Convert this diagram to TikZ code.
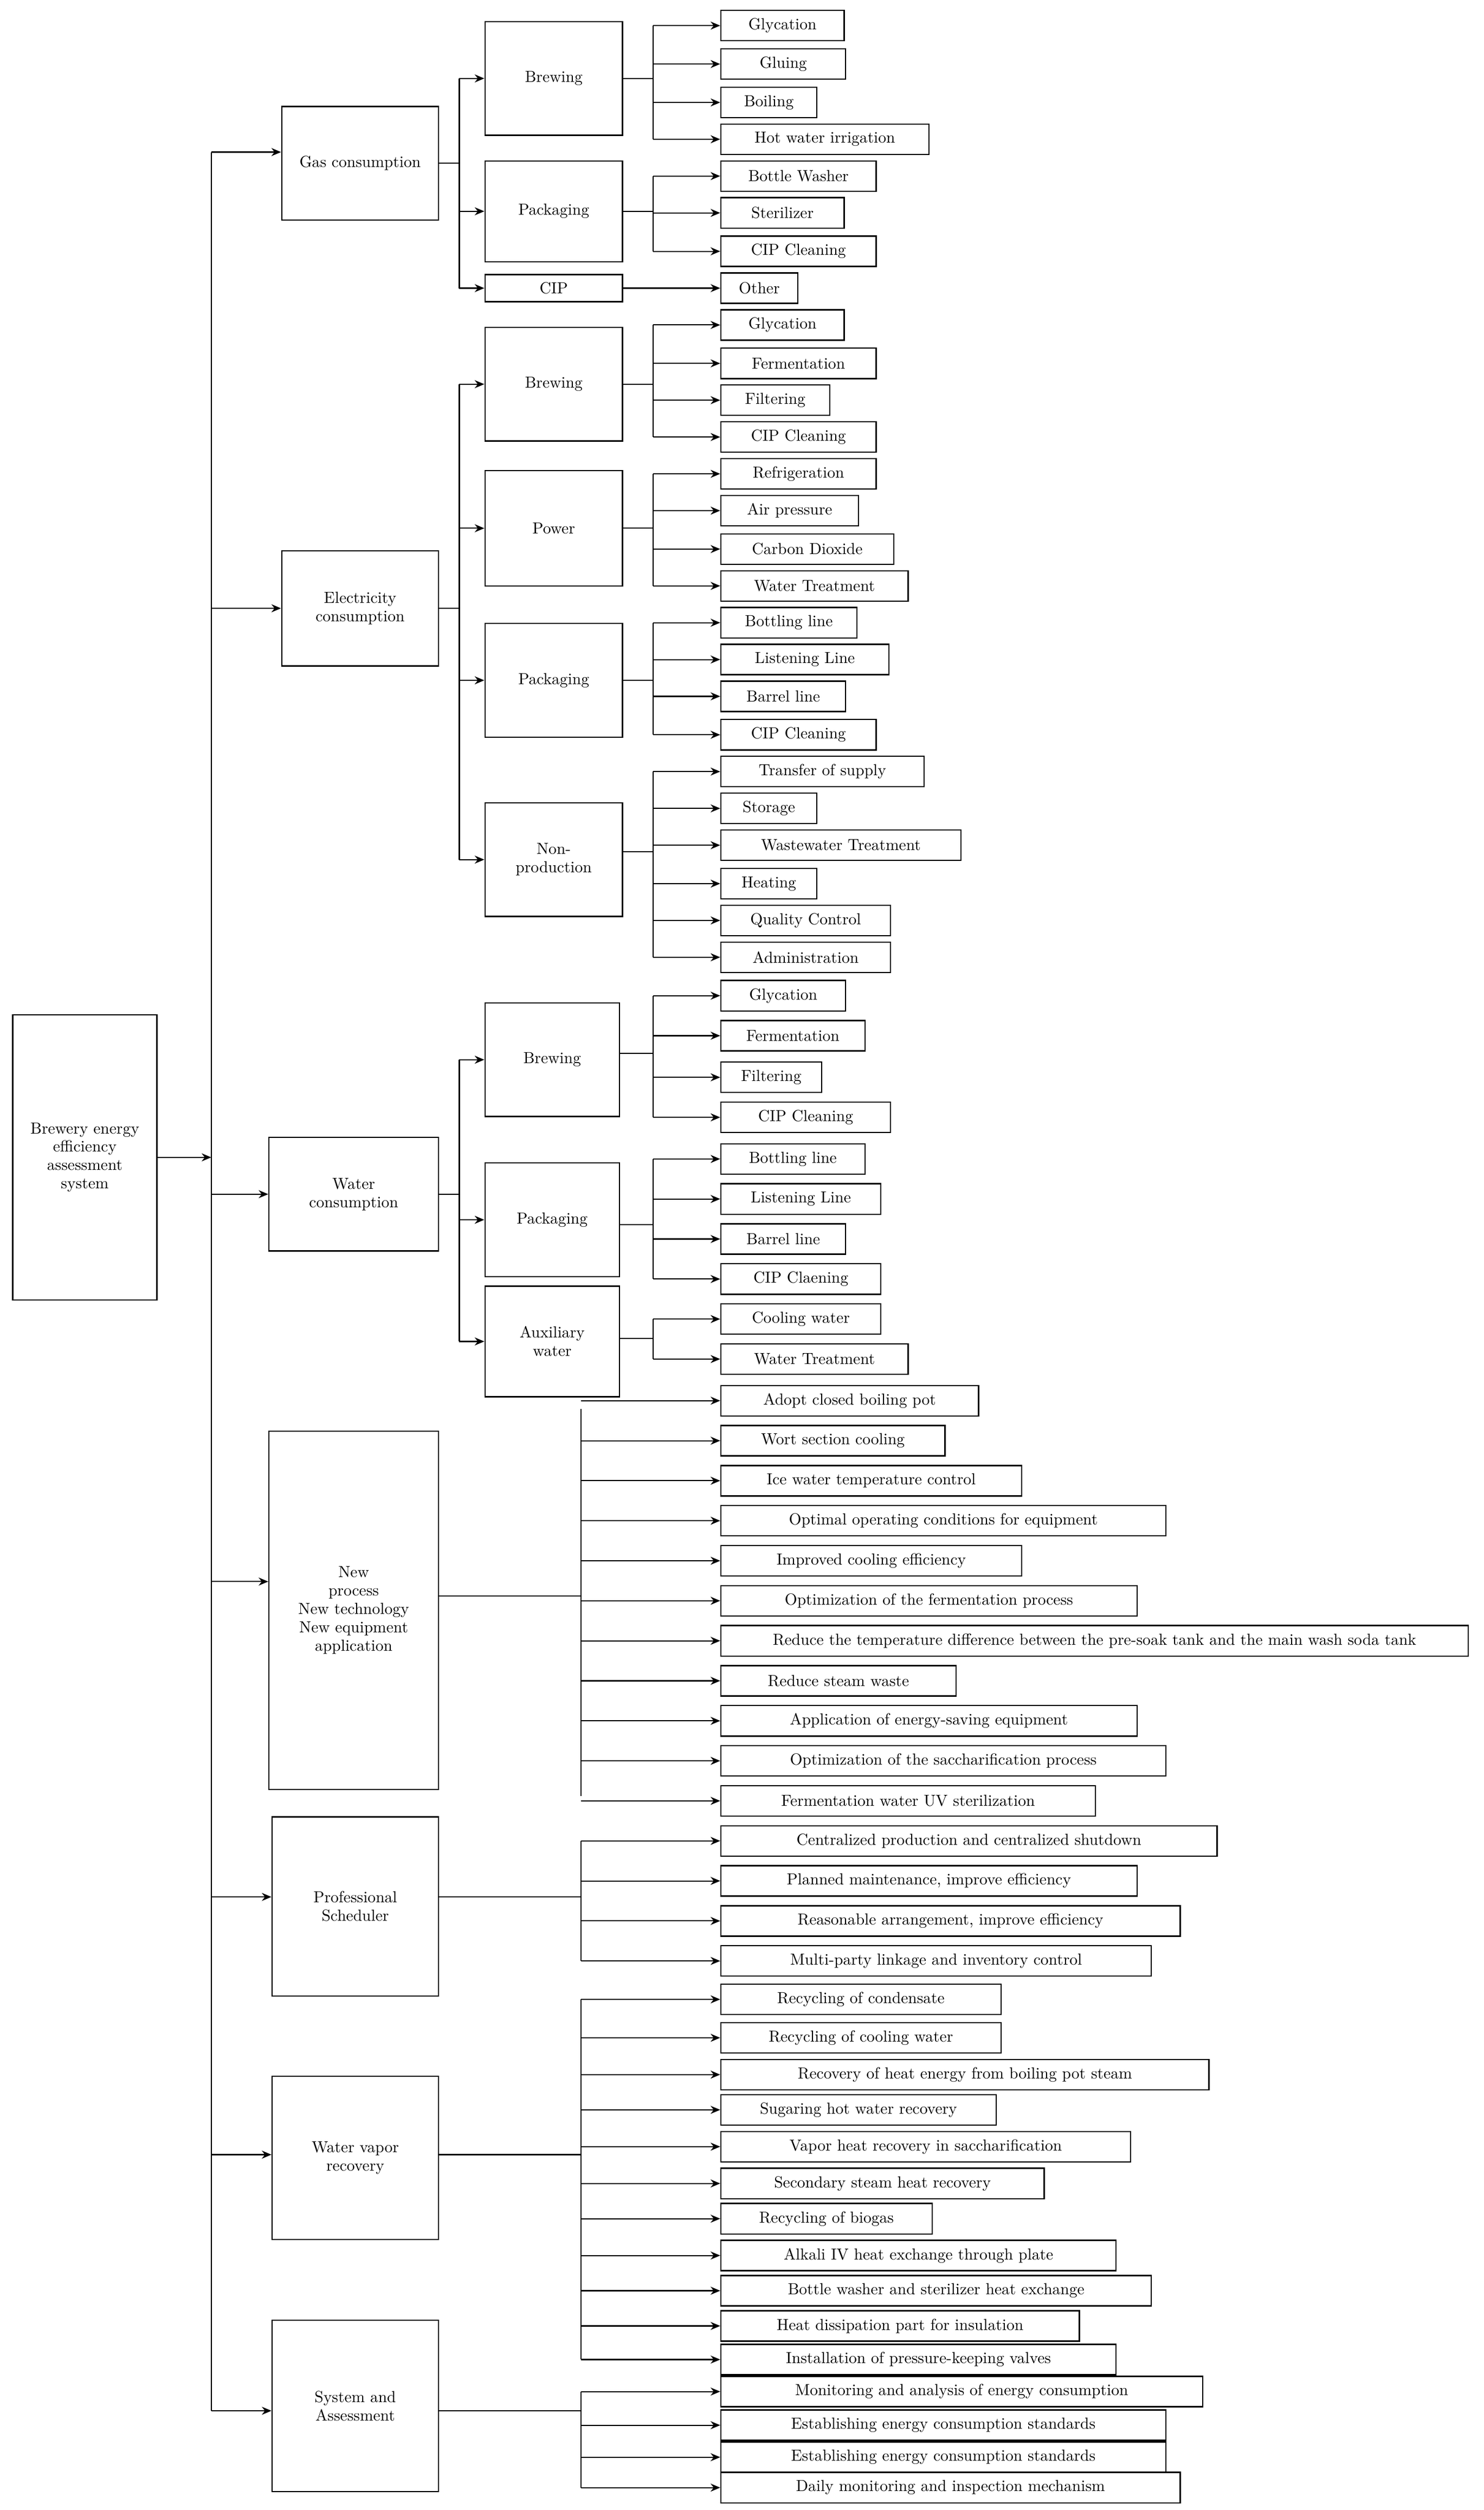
\documentclass[tikz,border=0pt]{standalone}
\usetikzlibrary{arrows.meta}
\begin{document}
\begin{tikzpicture}[x=1pt,y=-1pt,
 every node/.style={font=\fontsize{10}{11.5}\selectfont},
 box/.style={draw,line width=0.8pt,align=center,inner sep=2pt},
 leaf/.style={draw,line width=0.8pt,anchor=west,minimum height=19pt,inner sep=2pt},
 arr/.style={line width=0.7pt,-{Stealth[length=6pt,width=5pt]}},
 ln/.style={line width=0.7pt}]
\useasboundingbox (0,0) rectangle (927,1568);
% root
\node[box,minimum width=90pt,minimum height=178pt] (root) at (53,723) {Brewery energy\\efficiency\\assessment\\system};
\coordinate (tj) at (132,723);
\draw[arr] (root.east) -- (tj);
\draw[ln] (132,95) -- (132,1506);
% categories
\node[box,minimum width=98pt,minimum height=71pt] (gas) at (225,102) {Gas consumption};
\node[box,minimum width=98pt,minimum height=72pt] (ele) at (225,380) {Electricity\\consumption};
\node[box,minimum width=106pt,minimum height=71pt] (wat) at (221,746) {Water\\consumption};
\node[box,minimum width=106pt,minimum height=224pt] (new) at (221,1006) {New\\process\\New technology\\New equipment\\application};
\node[box,minimum width=104pt,minimum height=112pt] (sch) at (222,1191) {Professional\\Scheduler};
\node[box,minimum width=104pt,minimum height=102pt] (vap) at (222,1348) {Water vapor\\recovery};
\node[box,minimum width=104pt,minimum height=107pt] (sys) at (222,1503) {System and\\Assessment};
\foreach \n/\y in {gas/95,ele/380,wat/746,new/988,sch/1185,vap/1346,sys/1506}
  \draw[arr] (132,\y) -- (\n.west |- 0,\y);
% subcategories
\node[box,minimum width=86pt,minimum height=71pt] (gB) at (346,49) {Brewing};
\node[box,minimum width=86pt,minimum height=63pt] (gP) at (346,132) {Packaging};
\node[box,minimum width=86pt,minimum height=17pt,inner sep=1pt] (gC) at (346,180) {CIP};
\node[box,minimum width=86pt,minimum height=71pt] (eB) at (346,240) {Brewing};
\node[box,minimum width=86pt,minimum height=72pt] (eP) at (346,330) {Power};
\node[box,minimum width=86pt,minimum height=71pt] (eK) at (346,425) {Packaging};
\node[box,minimum width=86pt,minimum height=71pt] (eN) at (346,537) {Non-\\production};
\node[box,minimum width=84pt,minimum height=71pt] (wB) at (345,662) {Brewing};
\node[box,minimum width=84pt,minimum height=71pt] (wP) at (345,762) {Packaging};
\node[box,minimum width=84pt,minimum height=69pt] (wA) at (345,838) {Auxiliary\\water};
% category -> sub buses
\draw[ln] (gas.east) -- (287,102); \draw[ln] (287,49) -- (287,180);
\foreach \n/\y in {gB/49,gP/132,gC/180} \draw[arr] (287,\y) -- (\n.west);
\draw[ln] (ele.east) -- (287,380); \draw[ln] (287,240) -- (287,537);
\foreach \n/\y in {eB/240,eP/330,eK/425,eN/537} \draw[arr] (287,\y) -- (\n.west);
\draw[ln] (wat.east) -- (287,746); \draw[ln] (287,662) -- (287,838);
\foreach \n/\y in {wB/662,wP/762,wA/838} \draw[arr] (287,\y) -- (\n.west);
% leaves under subcategories
\newcommand{\leafgroup}[5]{%
 \draw[ln] (#1.east |- 0,#2) -- (#5,#2);
 \foreach \y/\r/\t in {#3} {
   \node[leaf,minimum width={\r pt-450pt}] (L\y) at (450,\y) {\t};
   \draw[arr] (#5,\y) -- (L\y.west);}
 \draw[ln] #4;}
\leafgroup{gB}{49}{16/527/Glycation,40/528/Gluing,64/510/Boiling,87/580/{Hot water irrigation}}{(408,16)--(408,87)}{408}
\leafgroup{gP}{132}{110/547/{Bottle Washer},133/527/Sterilizer,157/547/{CIP Cleaning}}{(408,110)--(408,157)}{408}
\node[leaf,minimum width=48pt] (L180) at (450,180) {Other};
\draw[arr] (gC.east) -- (L180.west);
\leafgroup{eB}{240}{203/527/Glycation,227/547/Fermentation,250/518/Filtering,273/547/{CIP Cleaning}}{(408,203)--(408,273)}{408}
\leafgroup{eP}{330}{296/547/Refrigeration,319/536/{Air pressure},343/558/{Carbon Dioxide},366/567/{Water Treatment}}{(408,296)--(408,366)}{408}
\leafgroup{eK}{425}{389/535/{Bottling line},412/555/{Listening Line},435/528/{Barrel line},459/547/{CIP Cleaning}}{(408,389)--(408,459)}{408}
\leafgroup{eN}{532}{482/577/{Transfer of supply},505/510/Storage,528/600/{Wastewater Treatment},552/510/Heating,575/556/{Quality Control},598/556/Administration}{(408,482)--(408,598)}{408}
\leafgroup{wB}{658}{622/528/Glycation,647/540/Fermentation,673/513/Filtering,698/556/{CIP Cleaning}}{(408,622)--(408,698)}{408}
\leafgroup{wP}{765}{724/540/{Bottling line},749/550/{Listening Line},774/528/{Barrel line},799/550/{CIP Claening}}{(408,724)--(408,799)}{408}
\leafgroup{wA}{836}{824/550/{Cooling water},849/567/{Water Treatment}}{(408,824)--(408,849)}{408}
% measures
\leafgroup{new}{997}{875/611/{Adopt closed boiling pot},900/590/{Wort section cooling},925/638/{Ice water temperature control},950/728/{Optimal operating conditions for equipment},975/638/{Improved cooling efficiency},1000/710/{Optimization of the fermentation process},1025/917/{Reduce the temperature difference between the pre-soak tank and the main wash soda tank},1050/597/{Reduce steam waste},1075/710/{Application of energy-saving equipment},1100/728/{Optimization of the saccharification process},1125/684/{Fermentation water UV sterilization}}{(363,880)--(363,1122)}{363}
\leafgroup{sch}{1185}{1150/760/{Centralized production and centralized shutdown},1175/710/{Planned maintenance, improve efficiency},1200/737/{Reasonable arrangement, improve efficiency},1225/719/{Multi-party linkage and inventory control}}{(363,1150)--(363,1225)}{363}
\leafgroup{vap}{1346}{1249/625/{Recycling of condensate},1273/625/{Recycling of cooling water},1296/755/{Recovery of heat energy from boiling pot steam},1318/622/{Sugaring hot water recovery},1341/706/{Vapor heat recovery in saccharification},1364/652/{Secondary steam heat recovery},1386/582/{Recycling of biogas},1409/697/{Alkali IV heat exchange through plate},1431/719/{Bottle washer and sterilizer heat exchange},1453/674/{Heat dissipation part for insulation},1474/697/{Installation of pressure-keeping valves}}{(363,1249)--(363,1474)}{363}
\leafgroup{sys}{1506}{1494/751/{Monitoring and analysis of energy consumption},1515/728/{Establishing energy consumption standards},1535/728/{Establishing energy consumption standards},1554/737/{Daily monitoring and inspection mechanism}}{(363,1494)--(363,1554)}{363}
\end{tikzpicture}
\end{document}
